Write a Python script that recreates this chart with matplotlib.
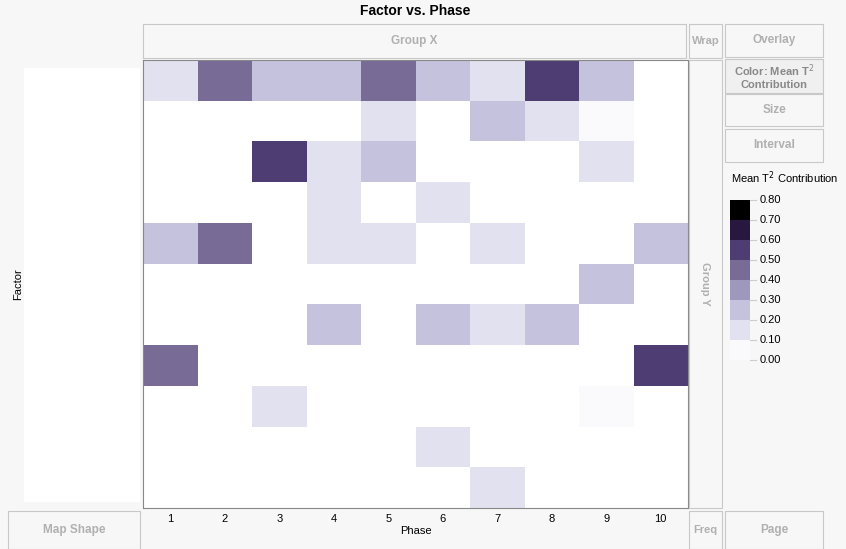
import numpy as np
import matplotlib.pyplot as plt
from matplotlib.colors import ListedColormap, BoundaryNorm
from matplotlib.patches import Rectangle
from matplotlib.lines import Line2D

phases = ['1', '2', '3', '4', '5', '6', '7', '8', '9', '10']
n_factors = 11
nan = np.nan
# mean T^2 contribution per factor (row, top to bottom) and phase (column)
values = np.array([
    [0.15, 0.45, 0.25, 0.25, 0.45, 0.25, 0.15, 0.55, 0.25, nan],
    [nan, nan, nan, nan, 0.15, nan, 0.25, 0.15, 0.05, nan],
    [nan, nan, 0.55, 0.15, 0.25, nan, nan, nan, 0.15, nan],
    [nan, nan, nan, 0.15, nan, 0.15, nan, nan, nan, nan],
    [0.25, 0.45, nan, 0.15, 0.15, nan, 0.15, nan, nan, 0.25],
    [nan, nan, nan, nan, nan, nan, nan, nan, 0.25, nan],
    [nan, nan, nan, 0.25, nan, 0.25, 0.15, 0.25, nan, nan],
    [0.45, nan, nan, nan, nan, nan, nan, nan, nan, 0.55],
    [nan, nan, 0.15, nan, nan, nan, nan, nan, 0.05, nan],
    [nan, nan, nan, nan, nan, 0.15, nan, nan, nan, nan],
    [nan, nan, nan, nan, nan, nan, 0.15, nan, nan, nan],
])
bounds = [0.0, 0.1, 0.2, 0.3, 0.4, 0.5, 0.6, 0.7, 0.8]
colors = ['#fafafd', '#e2e1ef', '#c5c2dd', '#9e98bc', '#786b96', '#4d3d73', '#28183f', '#000000']
cmap = ListedColormap(colors)
norm = BoundaryNorm(bounds, cmap.N)

plt.rcParams['font.family'] = ['Liberation Sans', 'DejaVu Sans']

W, H = 846, 549
fig = plt.figure(figsize=(W / 100, H / 100), dpi=100, facecolor='#f7f7f7')

def px_axes(x0, y0, x1, y1):
    return fig.add_axes([x0 / W, 1 - y1 / H, (x1 - x0) / W, (y1 - y0) / H])

def zone(x0, y0, x1, y1, label, bold=True, color='#b0b0b0', fill='#f7f7f7', rot=0, size=8.5):
    fig.patches.append(Rectangle((x0 / W, 1 - y1 / H), (x1 - x0) / W, (y1 - y0) / H,
                                 transform=fig.transFigure, facecolor=fill,
                                 edgecolor='#c8c8c8', lw=0.8))
    fig.text((x0 + x1) / 2 / W, 1 - (y0 + y1) / 2 / H, label, ha='center', va='center',
             color=color, fontsize=size, fontweight='bold' if bold else 'normal', rotation=rot)

# drop zones
zone(143, 24, 686, 58, 'Group X')
zone(689, 24, 722, 58, 'Wrap', size=8)
zone(725, 24, 823, 57, 'Overlay')
zone(725, 59, 823, 93, 'Color: Mean T$^2$\nContribution', color='#888888', fill='#f0f0f0', size=8)
zone(725, 94, 823, 126, 'Size')
zone(725, 129, 823, 162, 'Interval')
zone(689, 60, 722, 508, 'Group Y', rot=270, size=8)
zone(8, 511, 140, 549, 'Map Shape')
zone(689, 511, 722, 549, 'Freq', size=8)
zone(725, 511, 823, 549, 'Page')
fig.patches.append(Rectangle((24 / W, 1 - 502 / H), 116 / W, 434 / H,
                             transform=fig.transFigure, facecolor='white', edgecolor='none'))

fig.text(415 / W, 1 - 11 / H, 'Factor vs. Phase', ha='center', va='center',
         fontsize=10, fontweight='bold')

ax = px_axes(143, 60, 688, 508)
ax.pcolormesh(np.arange(len(phases) + 1) + 0.5, np.arange(n_factors + 1), values,
              cmap=cmap, norm=norm)
ax.set_facecolor('white')
ax.set_xlim(0.5, len(phases) + 0.5)
ax.set_ylim(n_factors, 0)
ax.set_xticks(np.arange(1, len(phases) + 1))
ax.set_xticklabels(phases, fontsize=8)
ax.set_yticks([])
ax.tick_params(axis='x', length=0, pad=4)
for s in ax.spines.values():
    s.set_color('#888888')
    s.set_linewidth(0.8)
ax.set_xlabel('Phase', fontsize=8, labelpad=2)
fig.text(18 / W, 1 - 284 / H, 'Factor', rotation=90, ha='center', va='center', fontsize=8)

# legend
fig.text(731 / W, 1 - 178 / H, 'Mean T$^2$ Contribution', fontsize=8, va='center')
for i in range(len(colors)):
    top = 200 + (7 - i) * 20
    fig.patches.append(Rectangle((730 / W, 1 - (top + 20) / H), 20 / W, 20 / H,
                                 transform=fig.transFigure, facecolor=colors[i], edgecolor='none'))
for i, b in enumerate(bounds):
    y = 360 - i * 20
    fig.lines.append(Line2D([750 / W, 756 / W], [1 - y / H, 1 - y / H],
                            transform=fig.transFigure, color='#cccccc', lw=0.8))
    fig.text(760 / W, 1 - y / H, f'{b:.2f}', fontsize=8, va='center')

fig.savefig('out.png', dpi=100, facecolor=fig.get_facecolor())
